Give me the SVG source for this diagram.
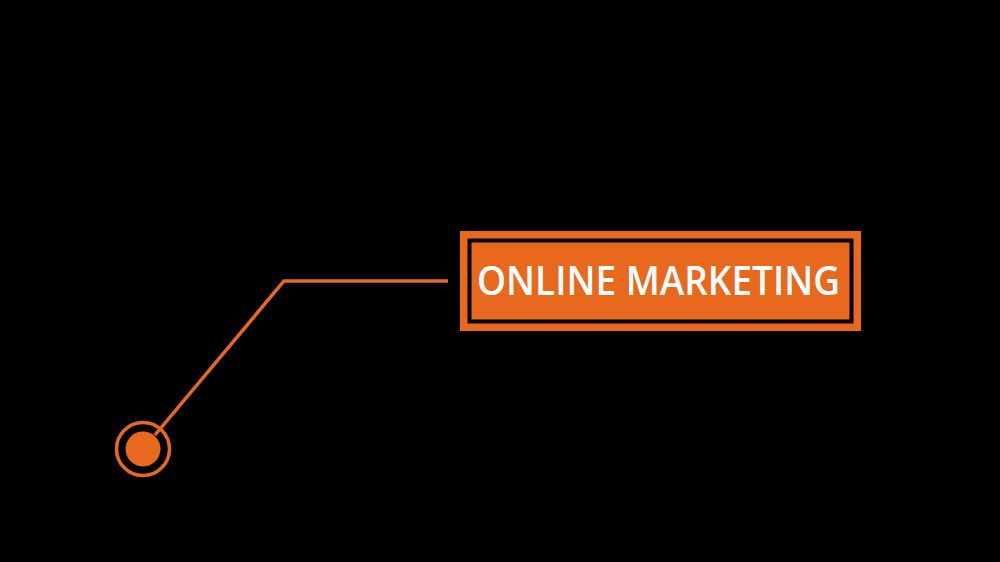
<svg xmlns="http://www.w3.org/2000/svg" width="1000" height="562" viewBox="0 0 1000 562">
  <style>
    .line { fill: none; stroke: #E8691D; stroke-width: 3.5; stroke-linejoin: miter; }
    .label { font-family: "Open Sans", "Liberation Sans", sans-serif; font-weight: 600; font-size: 39px; fill: #FFFFFF; }
  </style>
  <rect x="0" y="0" width="1000" height="562" fill="#000000"/>
  <g id="connectors">
    <polyline class="line" points="155,435 284,281 448,281"/>
  </g>
  <g id="node-dot">
    <circle cx="143" cy="449" r="26.5" fill="none" stroke="#E8691D" stroke-width="3.5"/>
    <circle cx="143" cy="449" r="17.5" fill="#E8691D"/>
  </g>
  <g id="node-online-marketing">
    <rect x="460" y="231" width="401" height="100" fill="#E8691D"/>
    <rect x="469.5" y="240.5" width="382" height="81" fill="none" stroke="#000000" stroke-width="4"/>
    <text class="label" x="477" y="295" textLength="363" lengthAdjust="spacingAndGlyphs">ONLINE MARKETING</text>
  </g>
</svg>
